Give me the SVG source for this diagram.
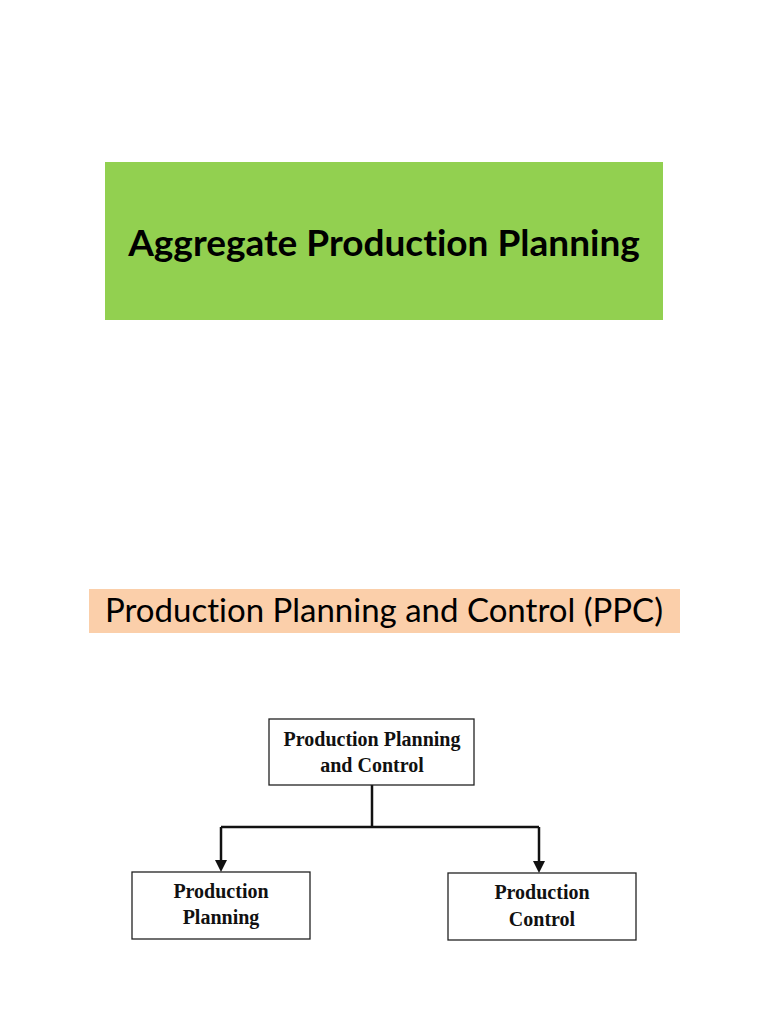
<svg xmlns="http://www.w3.org/2000/svg" width="768" height="1024" viewBox="0 0 768 1024">
<style>
.box{fill:#fff;stroke:#222;stroke-width:1.3}
.t{font-family:"Liberation Serif","Times New Roman",serif;font-weight:bold;font-size:20px;fill:#111;text-anchor:middle}
.c{fill:none;stroke:#111;stroke-width:2.5}
.h{font-family:Lato,"Open Sans",sans-serif;font-variant-ligatures:none;text-anchor:middle;fill:#000}
</style>
<rect width="768" height="1024" fill="#fff"/>
<g id="title">
<rect x="105" y="162" width="558" height="158" fill="#92D050"/>
<text class="h" x="384" y="256" font-weight="bold" font-size="37">Aggregate Production Planning</text>
</g>
<g id="subtitle">
<rect x="89" y="589" width="591" height="44" fill="#FBCFAA"/>
<text class="h" x="384" y="622" font-size="33">Production Planning and Control (PPC)</text>
</g>
<g id="connectors">
<path class="c" d="M372,785 V827 M221,827 H539"/>
<path class="c" d="M221,827 V862"/>
<path class="c" d="M539,827 V863"/>
<path d="M215,860 L227,860 L221,872 Z" fill="#111"/>
<path d="M533,861 L545,861 L539,873 Z" fill="#111"/>
</g>
<g id="ppc">
<rect class="box" x="269" y="719" width="205" height="66"/>
<text class="t" x="372" y="746">Production Planning</text>
<text class="t" x="372" y="772">and Control</text>
</g>
<g id="pp">
<rect class="box" x="132" y="872" width="178" height="67"/>
<text class="t" x="221" y="898">Production</text>
<text class="t" x="221" y="924">Planning</text>
</g>
<g id="pc">
<rect class="box" x="448" y="873" width="188" height="67"/>
<text class="t" x="542" y="899">Production</text>
<text class="t" x="542" y="926">Control</text>
</g>
</svg>
